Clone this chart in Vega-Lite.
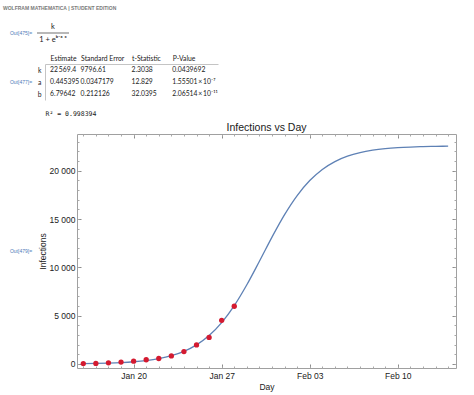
{
  "$schema": "https://vega.github.io/schema/vega-lite/v6.json",
  "padding": {"left": 3, "top": 6, "right": 10, "bottom": 2},
  "background": "white",
  "title": {"text": "WOLFRAM MATHEMATICA | STUDENT EDITION", "anchor": "start", "frame": "group", "dx": -7, "fontSize": 5, "font": "Liberation Sans", "fontWeight": "bold", "color": "#7a7a7a", "offset": 9},
  "spacing": 5,
  "vconcat": [
    {
      "spacing": 9,
      "vconcat": [
        {
          "spacing": 3,
          "hconcat": [
            {
              "data": {"name": "prompts"},
              "transform": [{"filter": "datum.cell === 'Out[475]='"}],
              "width": 22, "height": 26,
              "mark": {"type": "text", "align": "center", "baseline": "middle", "font": "Liberation Sans", "fontSize": 5, "color": "#4f7cb8"},
              "encoding": {"text": {"field": "cell"}}
            },
            {
              "data": {"name": "formula"},
              "width": 32,
              "height": 26,
              "layer": [
                {
                  "mark": {"type": "text", "font": "Lato", "fontSize": 7.5, "color": "#1a1a1a"},
                  "encoding": {
                    "y": {"field": "part", "type": "nominal", "sort": ["numerator", "denominator"], "scale": {"paddingInner": 0, "paddingOuter": 0}, "axis": null},
                    "text": {"field": "expr"}
                  }
                },
                {
                  "transform": [{"filter": "datum.part === 'numerator'"}],
                  "mark": {"type": "rule", "color": "#333333", "strokeWidth": 0.7},
                  "encoding": {
                    "y": {"field": "part", "type": "nominal", "sort": ["numerator", "denominator"], "bandPosition": 1, "scale": {"paddingInner": 0, "paddingOuter": 0}, "axis": null}
                  }
                }
              ]
            }
          ]
        },
        {
          "spacing": 4,
          "hconcat": [
            {
              "data": {"name": "prompts"},
              "transform": [{"filter": "datum.cell === 'Out[477]='"}],
              "width": 22, "height": 36,
              "mark": {"type": "text", "align": "center", "baseline": "middle", "font": "Liberation Sans", "fontSize": 5, "color": "#4f7cb8"},
              "encoding": {"text": {"field": "cell"}}
            },
            {
              "data": {"name": "table"},
              "width": 173,
              "height": 36,
              "resolve": {"axis": {"x": "independent"}},
              "layer": [
                {
                  "mark": {"type": "text", "align": "left", "dx": 0, "font": "Lato", "fontSize": 6.8, "color": "#1a1a1a"},
                  "encoding": {
                    "x": {"field": "column", "type": "nominal",
                      "scale": {"domain": ["Estimate", "s1", "s2", "Standard Error", "s3", "s4", "s5", "s6", "t-Statistic", "s7", "s8", "s9", "P-Value", "s10", "s11", "s12", "s13"], "paddingInner": 0, "paddingOuter": 0},
                      "axis": {"orient": "top", "values": ["Estimate", "Standard Error", "t-Statistic", "P-Value"], "labelOffset": 0, "labelAlign": "left", "labelAngle": 0, "labelOverlap": false, "labelPadding": 3, "ticks": false, "domain": true, "domainColor": "#c4c4c4", "domainWidth": 1, "labelFont": "Lato", "labelFontSize": 6.8, "labelColor": "#1a1a1a", "title": null}},
                    "y": {"field": "param", "type": "nominal", "sort": ["k", "a", "b"], "scale": {"paddingInner": 0, "paddingOuter": 0.15},
                      "axis": {"title": null, "labelPadding": 4, "labelFont": "Lato", "labelFontSize": 6.8, "labelColor": "#1a1a1a", "ticks": false, "domainColor": "#c4c4c4", "labelAngle": 0}},
                    "text": {"field": "value"}
                  }
                },
                {
                  "transform": [{"filter": "false"}],
                  "mark": {"type": "text"},
                  "encoding": {
                    "x": {"field": "column", "type": "nominal",
                      "scale": {"domain": ["Estimate", "s1", "s2", "Standard Error", "s3", "s4", "s5", "s6", "t-Statistic", "s7", "s8", "s9", "P-Value", "s10", "s11", "s12", "s13"], "paddingInner": 0, "paddingOuter": 0},
                      "axis": {"orient": "bottom", "labels": false, "ticks": false, "domain": false, "title": "R\u00b2 = 0.998394", "titleAnchor": "start", "titleAlign": "left", "titleFont": "DejaVu Sans Mono", "titleFontSize": 6.5, "titleFontWeight": "normal", "titleColor": "#1a1a1a", "titlePadding": 10}}
                  }
                }
              ]
            }
          ]
        }
      ]
    },
    {
      "spacing": 4,
      "hconcat": [
        {
          "data": {"name": "prompts"},
          "transform": [{"filter": "datum.cell === 'Out[479]='"}],
          "width": 22, "height": 234,
          "mark": {"type": "text", "align": "center", "baseline": "middle", "font": "Liberation Sans", "fontSize": 5, "color": "#4f7cb8"},
          "encoding": {"text": {"field": "cell"}}
        },
        {
          "width": 379,
          "height": 234,
          "view": {"stroke": "#a0a0a0"},
          "title": {"text": "Infections vs Day", "fontSize": 10.5, "font": "Liberation Sans", "fontWeight": "normal", "color": "#1a1a1a", "offset": 0},
          "resolve": {"axis": {"x": "independent", "y": "independent"}},
          "layer": [
            {
              "data": {"name": "fit"},
              "mark": {"type": "line", "color": "#5e81b5", "strokeWidth": 1.3, "interpolate": "monotone"},
              "encoding": {
                "x": {"field": "date", "type": "temporal",
                  "scale": {"type": "utc", "domain": [{"year": 2020, "month": 1, "date": 15, "hours": 12, "utc": true}, {"year": 2020, "month": 2, "date": 14, "hours": 15, "utc": true}], "nice": false},
                  "axis": {"orient": "bottom", "values": [{"year": 2020, "month": 1, "date": 20, "utc": true}, {"year": 2020, "month": 1, "date": 27, "utc": true}, {"year": 2020, "month": 2, "date": 3, "utc": true}, {"year": 2020, "month": 2, "date": 10, "utc": true}], "format": "%b %d", "ticks": true, "tickSize": -4, "tickColor": "#8c8c8c", "domain": false, "labelPadding": 7, "labelFontSize": 8.5, "labelColor": "#222222", "title": "Day", "titleFontSize": 8.5, "titleFontWeight": "normal", "titleColor": "#222222", "titlePadding": 3}},
                "y": {"field": "infections", "type": "quantitative",
                  "scale": {"domain": [-414, 23797], "nice": false, "zero": false},
                  "axis": {"orient": "left", "values": [0, 5000, 10000, 15000, 20000], "labelExpr": "replace(format(datum.value, ','), ',', ' ')", "ticks": true, "tickSize": -4, "tickColor": "#8c8c8c", "domain": false, "labelPadding": 6, "labelFontSize": 8.5, "labelColor": "#222222", "title": "Infections", "titleFontSize": 8.5, "titleFontWeight": "normal", "titleColor": "#222222", "titlePadding": 2}}
              }
            },
            {
              "data": {"name": "cases"},
              "mark": {"type": "point", "filled": true, "opacity": 1, "color": "#d41a30", "size": 28},
              "encoding": {
                "x": {"field": "date", "type": "temporal",
                  "scale": {"type": "utc", "domain": [{"year": 2020, "month": 1, "date": 15, "hours": 12, "utc": true}, {"year": 2020, "month": 2, "date": 14, "hours": 15, "utc": true}], "nice": false},
                  "axis": {"orient": "top", "values": [{"year": 2020, "month": 1, "date": 20, "utc": true}, {"year": 2020, "month": 1, "date": 27, "utc": true}, {"year": 2020, "month": 2, "date": 3, "utc": true}, {"year": 2020, "month": 2, "date": 10, "utc": true}], "labels": false, "domain": false, "ticks": true, "tickSize": -4, "tickColor": "#8c8c8c", "title": null}},
                "y": {"field": "infections", "type": "quantitative",
                  "scale": {"domain": [-414, 23797], "nice": false, "zero": false},
                  "axis": {"orient": "right", "values": [0, 5000, 10000, 15000, 20000], "labels": false, "domain": false, "ticks": true, "tickSize": -4, "tickColor": "#8c8c8c", "title": null}}
              }
            },
            {
              "data": {"name": "cases"},
              "mark": {"type": "point", "opacity": 0},
              "encoding": {
                "x": {"field": "date", "type": "temporal",
                  "scale": {"type": "utc", "domain": [{"year": 2020, "month": 1, "date": 15, "hours": 12, "utc": true}, {"year": 2020, "month": 2, "date": 14, "hours": 15, "utc": true}], "nice": false},
                  "axis": {"orient": "bottom", "tickCount": {"interval": "day", "step": 1}, "labels": false, "domain": false, "ticks": true, "tickSize": -2, "tickColor": "#a8a8a8", "title": null}},
                "y": {"field": "infections", "type": "quantitative",
                  "scale": {"domain": [-414, 23797], "nice": false, "zero": false},
                  "axis": {"orient": "left", "values": [0, 1000, 2000, 3000, 4000, 5000, 6000, 7000, 8000, 9000, 10000, 11000, 12000, 13000, 14000, 15000, 16000, 17000, 18000, 19000, 20000, 21000, 22000, 23000], "labels": false, "domain": false, "ticks": true, "tickSize": -2, "tickColor": "#a8a8a8", "title": null}}
              }
            },
            {
              "data": {"name": "cases"},
              "mark": {"type": "point", "opacity": 0},
              "encoding": {
                "x": {"field": "date", "type": "temporal",
                  "scale": {"type": "utc", "domain": [{"year": 2020, "month": 1, "date": 15, "hours": 12, "utc": true}, {"year": 2020, "month": 2, "date": 14, "hours": 15, "utc": true}], "nice": false},
                  "axis": {"orient": "top", "tickCount": {"interval": "day", "step": 1}, "labels": false, "domain": false, "ticks": true, "tickSize": -2, "tickColor": "#a8a8a8", "title": null}},
                "y": {"field": "infections", "type": "quantitative",
                  "scale": {"domain": [-414, 23797], "nice": false, "zero": false},
                  "axis": {"orient": "right", "values": [0, 1000, 2000, 3000, 4000, 5000, 6000, 7000, 8000, 9000, 10000, 11000, 12000, 13000, 14000, 15000, 16000, 17000, 18000, 19000, 20000, 21000, 22000, 23000], "labels": false, "domain": false, "ticks": true, "tickSize": -2, "tickColor": "#a8a8a8", "title": null}}
              }
            }
          ]
        }
      ]
    }
  ],
  "datasets": {
    "prompts": [
      {"cell": "Out[475]="},
      {"cell": "Out[477]="},
      {"cell": "Out[479]="}
    ],
    "formula": [
      {"part": "numerator", "expr": "k"},
      {"part": "denominator", "expr": "1 + e\u1d47\u207b\u1d43 \u02e3"}
    ],
    "table": [
      {"param": "k", "column": "Estimate", "value": "22\u2009569.4"},
      {"param": "k", "column": "Standard Error", "value": "9796.61"},
      {"param": "k", "column": "t-Statistic", "value": "2.3038"},
      {"param": "k", "column": "P-Value", "value": "0.0439692"},
      {"param": "a", "column": "Estimate", "value": "0.445395"},
      {"param": "a", "column": "Standard Error", "value": "0.0347179"},
      {"param": "a", "column": "t-Statistic", "value": "12.829"},
      {"param": "a", "column": "P-Value", "value": "1.55501\u2009\u00d7\u200910\u207b\u2077"},
      {"param": "b", "column": "Estimate", "value": "6.79642"},
      {"param": "b", "column": "Standard Error", "value": "0.212126"},
      {"param": "b", "column": "t-Statistic", "value": "32.0395"},
      {"param": "b", "column": "P-Value", "value": "2.06514\u2009\u00d7\u200910\u207b\u00b9\u00b9"}
    ],
    "cases": [
      {"date": "2020-01-16", "infections": 45},
      {"date": "2020-01-17", "infections": 62},
      {"date": "2020-01-18", "infections": 121},
      {"date": "2020-01-19", "infections": 198},
      {"date": "2020-01-20", "infections": 291},
      {"date": "2020-01-21", "infections": 440},
      {"date": "2020-01-22", "infections": 571},
      {"date": "2020-01-23", "infections": 830},
      {"date": "2020-01-24", "infections": 1287},
      {"date": "2020-01-25", "infections": 1975},
      {"date": "2020-01-26", "infections": 2744},
      {"date": "2020-01-27", "infections": 4515},
      {"date": "2020-01-28", "infections": 5974}
    ],
    "fit": [
      {"date": "2020-01-16", "infections": 39.3},
      {"date": "2020-01-17", "infections": 61.3},
      {"date": "2020-01-18", "infections": 95.6},
      {"date": "2020-01-19", "infections": 148.8},
      {"date": "2020-01-20", "infections": 231.5},
      {"date": "2020-01-21", "infections": 359.3},
      {"date": "2020-01-22", "infections": 556.0},
      {"date": "2020-01-23", "infections": 856.1},
      {"date": "2020-01-24", "infections": 1308.7},
      {"date": "2020-01-25", "infections": 1978.6},
      {"date": "2020-01-26", "infections": 2943.9},
      {"date": "2020-01-27", "infections": 4282.4},
      {"date": "2020-01-28", "infections": 6042.0},
      {"date": "2020-01-29", "infections": 8200.4},
      {"date": "2020-01-30", "infections": 10633.8},
      {"date": "2020-01-31", "infections": 13129.5},
      {"date": "2020-02-01", "infections": 15452.5},
      {"date": "2020-02-02", "infections": 17427.6},
      {"date": "2020-02-03", "infections": 18981.7},
      {"date": "2020-02-04", "infections": 20132.2},
      {"date": "2020-02-05", "infections": 20945.4},
      {"date": "2020-02-06", "infections": 21501.4},
      {"date": "2020-02-07", "infections": 21873.4},
      {"date": "2020-02-08", "infections": 22118.2},
      {"date": "2020-02-09", "infections": 22278.5},
      {"date": "2020-02-10", "infections": 22382.2},
      {"date": "2020-02-11", "infections": 22449.1},
      {"date": "2020-02-12", "infections": 22492.2},
      {"date": "2020-02-13", "infections": 22519.9},
      {"date": "2020-02-14", "infections": 22537.7}
    ]
  },
  "config": {
    "font": "Liberation Sans",
    "view": {"stroke": null},
    "axis": {"grid": false, "labelFont": "Liberation Sans", "titleFont": "Liberation Sans"}
  }
}
